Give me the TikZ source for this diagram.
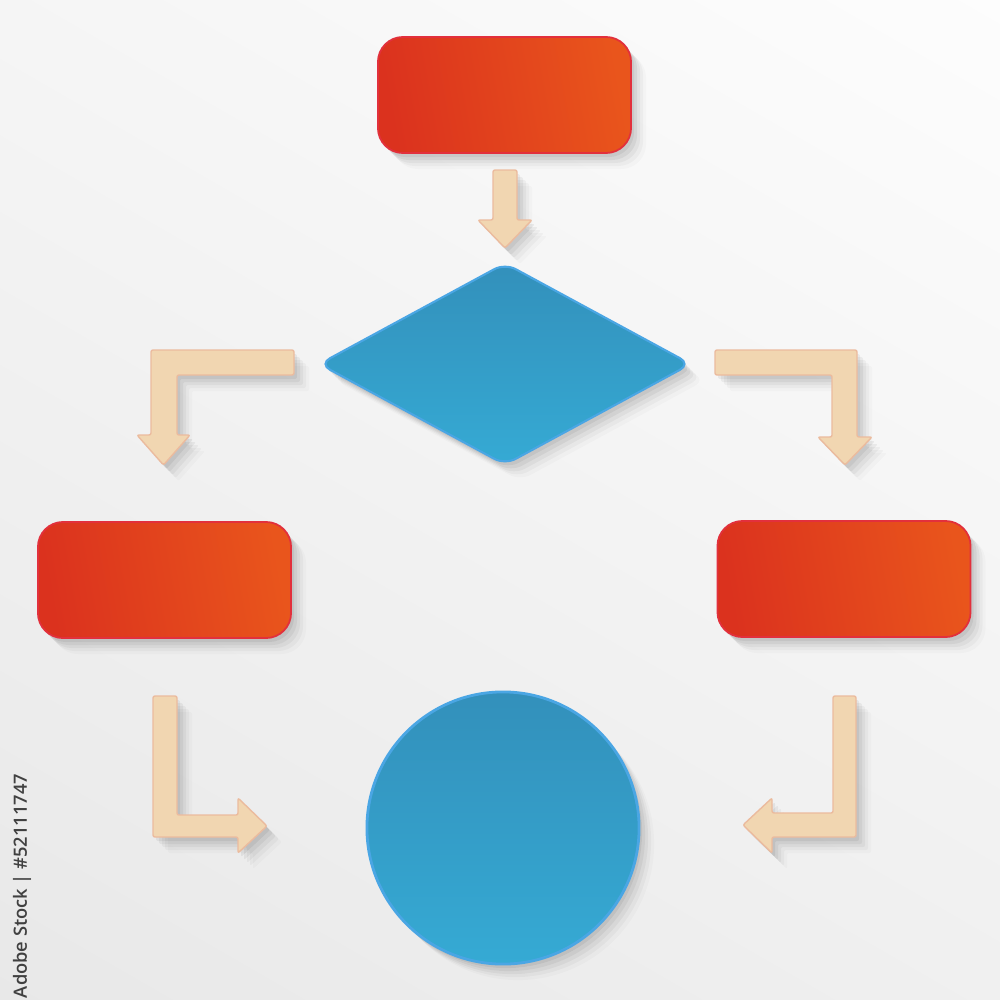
\documentclass[tikz,border=0pt]{standalone}
\usepackage{fontspec}
\newfontfamily\wmfont{Open Sans Semibold}
\usetikzlibrary{shapes.geometric,shadows}
\definecolor{redA}{HTML}{DB321E}
\definecolor{redB}{HTML}{E9551C}
\definecolor{redEdge}{HTML}{E2303C}
\definecolor{blueA}{HTML}{3390BB}
\definecolor{blueB}{HTML}{35AAD4}
\definecolor{blueEdge}{HTML}{4AA6E4}
\definecolor{beige}{HTML}{F1D6B1}
\definecolor{beigeEdge}{HTML}{EBBB9E}
\definecolor{bgA}{HTML}{FDFDFD}
\definecolor{bgB}{HTML}{E8E8E8}
\tikzset{
  softshadow/.style={
    drop shadow={shadow xshift=0.03cm,shadow yshift=-0.04cm,opacity=0.06,fill=black},
    drop shadow={shadow xshift=0.06cm,shadow yshift=-0.07cm,opacity=0.05,fill=black},
    drop shadow={shadow xshift=0.09cm,shadow yshift=-0.10cm,opacity=0.04,fill=black},
    drop shadow={shadow xshift=0.12cm,shadow yshift=-0.13cm,opacity=0.03,fill=black},
    drop shadow={shadow xshift=0.15cm,shadow yshift=-0.16cm,opacity=0.02,fill=black}},
  redbox/.style={rectangle, rounded corners=0.25cm, minimum width=2.53cm,
    minimum height=1.16cm, inner sep=0pt, draw=redEdge, line width=0.5pt,
    left color=redA, right color=redB, shading angle=100, softshadow},
  bluediamond/.style={diamond, minimum width=3.72cm, minimum height=2.02cm,
    inner sep=0pt, rounded corners=0.12cm, draw=blueEdge, line width=0.6pt,
    top color=blueA, bottom color=blueB, softshadow},
  bluecircle/.style={circle, minimum size=2.72cm, inner sep=0pt,
    draw=blueEdge, line width=0.8pt, top color=blueA, bottom color=blueB, softshadow},
  blockarrow/.style={fill=beige, draw=beigeEdge, line width=0.4pt,
    rounded corners=0.02cm, softshadow}
}
\begin{document}
\begin{tikzpicture}[x=0.01cm,y=-0.01cm]
\useasboundingbox (0,0) rectangle (1000,1000);
\shade[top color=bgA, bottom color=bgB, shading angle=-30] (-200,-200) rectangle (1200,1200);
% nodes
\node[redbox] (top) at (504.5,95) {};
\node[bluediamond] (dec) at (505,364) {};
\node[redbox] (left) at (164.5,580) {};
\node[redbox] (right) at (844,579) {};
\node[bluecircle] (end) at (503,828) {};
% block arrows
\path[blockarrow] (493,170)--(517,170)--(517,220)--(532,220)--(505,248)--(478,220)--(493,220)--cycle;
\path[blockarrow] (294,350)--(294,375)--(177,375)--(177,435)--(190,435)--(163.5,465)--(137,435)--(151,435)--(151,350)--cycle;
\path[blockarrow] (715,350)--(857,350)--(857,437)--(872,437)--(845,465)--(818,437)--(832,437)--(832,375)--(715,375)--cycle;
\path[blockarrow] (153,696)--(177,696)--(177,815)--(238,815)--(238,798)--(267,826)--(238,853)--(238,837)--(153,837)--cycle;
\path[blockarrow] (833,696)--(856,696)--(856,837)--(772,837)--(772,853)--(743,825)--(772,798)--(772,813)--(833,813)--cycle;
% vertical label
\node[rotate=90, text=black!75, inner sep=0pt, anchor=center] (wm) at (22,886)
  {\wmfont\fontsize{5.2}{6}\selectfont Adobe Stock | \#52111747};
\end{tikzpicture}
\end{document}
